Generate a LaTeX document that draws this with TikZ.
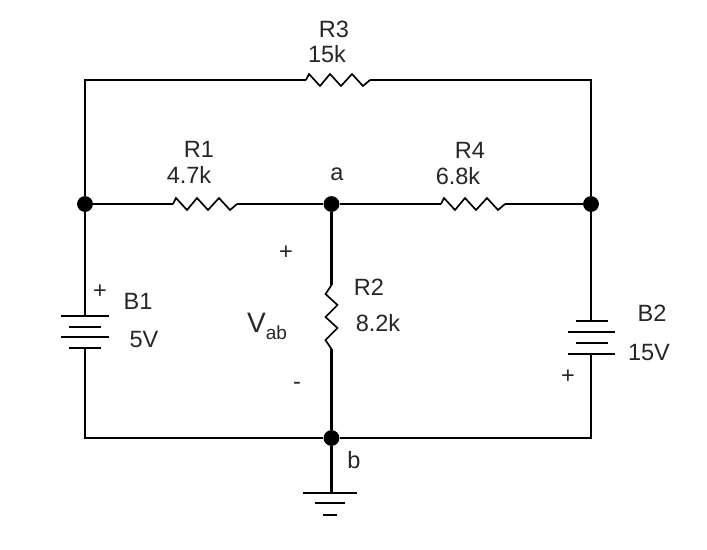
\documentclass[tikz,border=0pt]{standalone}
\usepackage{fontspec}
\setmainfont{Liberation Sans}
\tikzset{
	wire/.style = {black, line width = 1.2pt},
	lbl/.style = {inner sep = 0pt, text = black!85, font = \fontsize{13.4}{15}\selectfont},
	junction/.style = {circle, fill = black, inner sep = 0pt, minimum size = 9pt},
	resh/.pic = {\draw [black, line width = 0.95pt] (0, 0) -- (3, -6) -- (14, 6) -- (24, -6) -- (35, 6) -- (46, -6) -- (57, 6) -- (64, 0);},
	resv/.pic = {\draw [black, line width = 0.95pt] (0, 0) -- (-6, 9) -- (6, 20) -- (-6, 32) -- (6, 43) -- (-6, 55) -- (0, 64);}
}
\begin{document}
\begin{tikzpicture}[x = 0.02cm, y = -0.02cm]
	\useasboundingbox (0, 0) rectangle (707, 549);
	% junctions
	\coordinate (tl) at (85, 80);
	\coordinate (tr) at (591, 80);
	\coordinate (bl) at (85, 438);
	\coordinate (br) at (591, 438);
	\node [junction] (left) at (85, 204) {};
	\node [junction] (a) at (331.5, 204) {};
	\node [junction] (right) at (591, 204) {};
	\node [junction] (b) at (331.5, 438) {};
	% resistor ends
	\coordinate (r3l) at (306, 80);
	\coordinate (r3r) at (370, 80);
	\coordinate (r1l) at (173, 204);
	\coordinate (r1r) at (237, 204);
	\coordinate (r4l) at (441, 204);
	\coordinate (r4r) at (505, 204);
	\coordinate (r2t) at (331.5, 285);
	\coordinate (r2b) at (331.5, 349);
	\pic at (r3l) {resh};
	\pic at (r1l) {resh};
	\pic at (r4l) {resh};
	\pic at (r2t) {resv};
	% battery plates
	\coordinate (b1t) at (85, 316);
	\coordinate (b1b) at (85, 348);
	\coordinate (b2t) at (591, 321);
	\coordinate (b2b) at (591, 354);
	\draw [wire] (61, 316) -- (109, 316);
	\draw [wire] (69, 327) -- (101, 327);
	\draw [wire] (61, 337) -- (109, 337);
	\draw [wire] (69, 348) -- (101, 348);
	\draw [wire] (576, 321) -- (608, 321);
	\draw [wire] (568, 332) -- (615, 332);
	\draw [wire] (576, 343) -- (608, 343);
	\draw [wire] (568, 354) -- (615, 354);
	% wires
	\draw [wire] (left) -- (tl) -- (r3l);
	\draw [wire] (r3r) -- (tr) -- (right);
	\draw [wire] (left) -- (r1l);
	\draw [wire] (r1r) -- (a);
	\draw [wire] (a) -- (r4l);
	\draw [wire] (r4r) -- (right);
	\draw [wire] (a) -- (r2t);
	\draw [wire] (r2b) -- (b);
	\draw [wire] (left) -- (b1t);
	\draw [wire] (b1b) -- (bl) -- (b);
	\draw [wire] (right) -- (b2t);
	\draw [wire] (b2b) -- (br) -- (b);
	% ground
	\coordinate (gnd) at (331.5, 493);
	\draw [wire] (b) -- (gnd);
	\draw [wire] (303, 493) -- (357, 493);
	\draw [wire] (315, 503) -- (345, 503);
	\draw [wire] (323, 515) -- (337, 515);
	% labels
	\node [lbl] (r3name) at (334, 29) {R3};
	\node [lbl] (r3val) at (327, 54) {15k};
	\node [lbl] (r1name) at (199, 149) {R1};
	\node [lbl] (r1val) at (189, 175) {4.7k};
	\node [lbl] (alab) at (337, 174) {a};
	\node [lbl] (r4name) at (470, 150) {R4};
	\node [lbl] (r4val) at (458, 176) {6.8k};
	\node [lbl] (plusv) at (286, 253) {+};
	\node [lbl] (r2name) at (369, 287) {R2};
	\node [lbl] (r2val) at (378, 323) {8.2k};
	\node [lbl] (vab) at (267, 326) {\fontsize{16}{18}\selectfont V\raisebox{-4pt}{\fontsize{10.8}{12}\selectfont ab}};
	\node [lbl] (minusv) at (297, 386) {-};
	\node [lbl] (blab) at (354, 460) {b};
	\node [lbl] (b1plus) at (100, 292) {+};
	\node [lbl] (b1name) at (138, 301) {B1};
	\node [lbl] (b1val) at (144, 340) {5V};
	\node [lbl] (b2name) at (652, 313) {B2};
	\node [lbl] (b2val) at (649, 353) {15V};
	\node [lbl] (b2plus) at (568, 377) {+};
\end{tikzpicture}
\end{document}
